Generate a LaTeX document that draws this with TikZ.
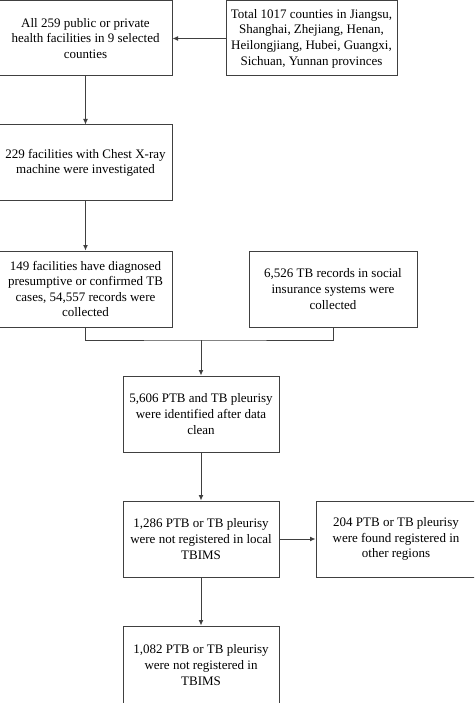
\documentclass[tikz,border=0pt]{standalone}
\usepackage{fontspec}
\setmainfont{Liberation Serif}
\usepackage{tikz}
\usetikzlibrary{arrows.meta}

\begin{document}
\begin{tikzpicture}[x=1pt,y=-1pt,
    box/.style={draw=black!75,line width=1pt,minimum height=76pt,align=center,
      inner sep=0pt,font=\fontsize{13}{15.6}\selectfont},
    arr/.style={draw=black!75,line width=1pt,-{Latex[length=5.5pt,width=5pt]}}]
  \clip (0,0) rectangle (474,703);
  \node[box,minimum width=173pt,minimum height=75pt] (all) at (85.5,38.5)
    {All 259 public or private\\health facilities in 9 selected\\counties};
  \node[box,minimum width=171pt,minimum height=75pt] (total) at (311.5,38.5)
    {Total 1017 counties in Jiangsu,\\Shanghai, Zhejiang, Henan,\\Heilongjiang, Hubei, Guangxi,\\Sichuan, Yunnan provinces};
  \node[box,minimum width=173pt] (xray) at (85.5,163)
    {229 facilities with Chest X-ray\\machine were investigated};
  \node[box,minimum width=173pt] (diag) at (85.5,289)
    {149 facilities have diagnosed\\presumptive or confirmed TB\\cases, 54,557 records were\\collected};
  \node[box,minimum width=168pt] (insur) at (333,289)
    {6,526 TB records in social\\insurance systems were\\collected};
  \node[box,minimum width=156pt] (ptb) at (201,414)
    {5,606 PTB and TB pleurisy\\were identified after data\\clean};
  \node[box,minimum width=156pt] (local) at (201,539)
    {1,286 PTB or TB pleurisy\\were not registered in local\\TBIMS};
  \node[box,minimum width=160pt] (other) at (396,539)
    {204 PTB or TB pleurisy\\were found registered in\\other regions};
  \node[box,minimum width=156pt,minimum height=78pt] (notreg) at (201,665)
    {1,082 PTB or TB pleurisy\\were not registered in\\TBIMS};
  \coordinate (join) at (201,340);

  \draw[arr] (total.west) -- (all.east);
  \draw[arr] (all.south) -- (xray.north);
  \draw[arr] (xray.south) -- (diag.north);
  \draw[draw=black!75,line width=1pt] (diag.south) |- (join) -| (insur.south);
  \draw[arr] (join) -- (ptb.north);
  \draw[arr] (ptb.south) -- (local.north);
  \draw[arr] (local.east) -- (other.west);
  \draw[arr] (local.south) -- (notreg.north);
\end{tikzpicture}
\end{document}
